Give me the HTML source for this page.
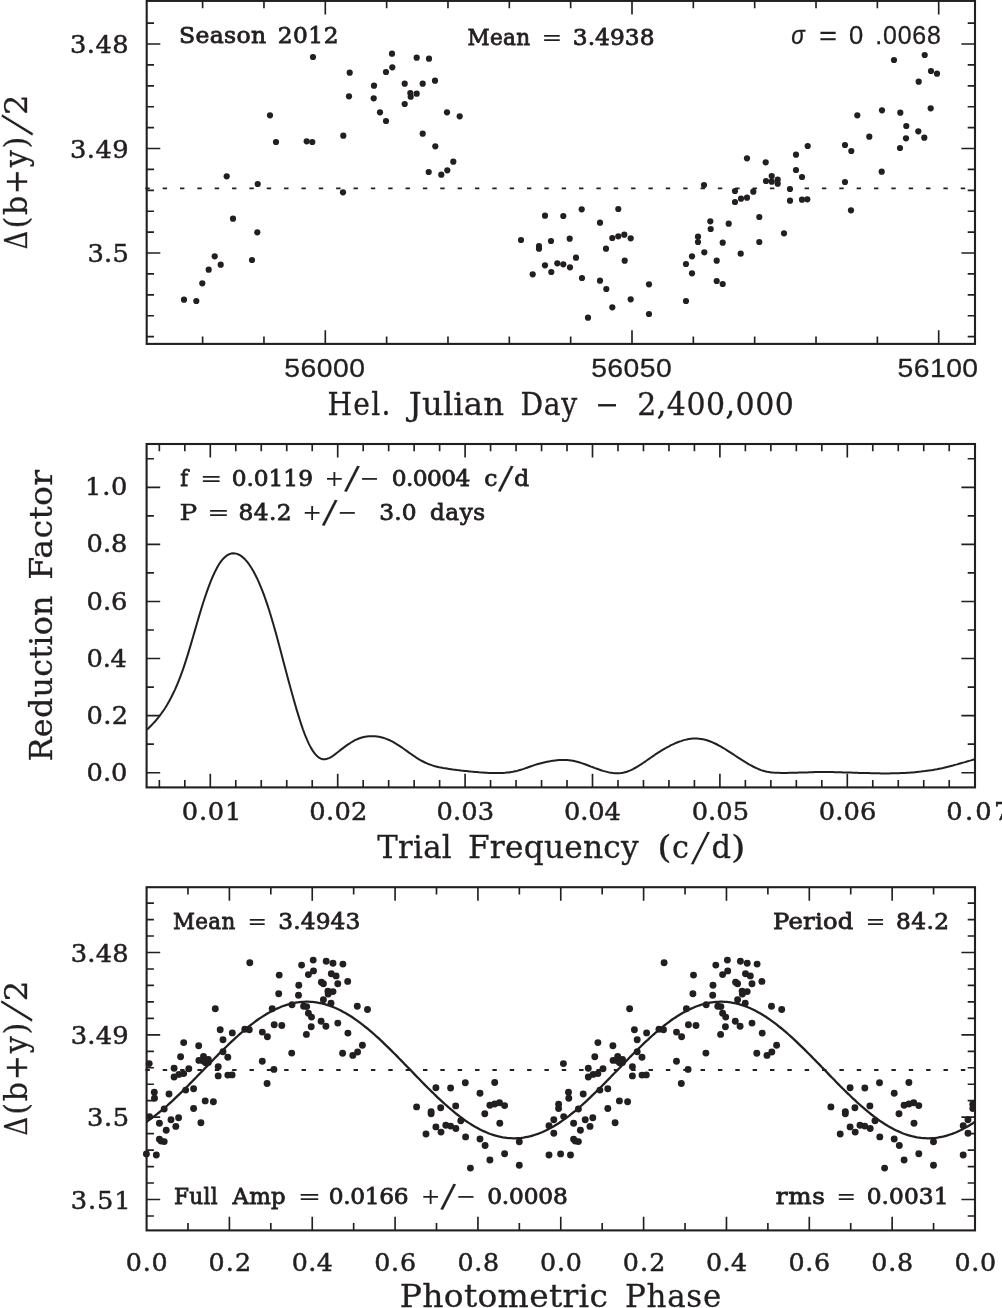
<!DOCTYPE html>
<html><head><meta charset="utf-8"><title>Photometric period analysis</title>
<style>html,body{margin:0;padding:0;background:#fff}svg{display:block}</style></head>
<body>
<svg width="1002" height="1308" viewBox="0 0 1002 1308" fill="#231f20">
<rect width="1002" height="1308" fill="#fff"/>
<rect x="146.70" y="0.90" width="828.30" height="343.00" fill="none" stroke="#231f20" stroke-width="2.1"/>
<path d="M202.62 0.90v7.3M202.62 343.90v-7.3M263.96 0.90v7.3M263.96 343.90v-7.3M386.64 0.90v7.3M386.64 343.90v-7.3M447.98 0.90v7.3M447.98 343.90v-7.3M509.32 0.90v7.3M509.32 343.90v-7.3M570.66 0.90v7.3M570.66 343.90v-7.3M693.34 0.90v7.3M693.34 343.90v-7.3M754.68 0.90v7.3M754.68 343.90v-7.3M816.02 0.90v7.3M816.02 343.90v-7.3M877.36 0.90v7.3M877.36 343.90v-7.3" stroke="#231f20" stroke-width="1.65" fill="none"/>
<path d="M325.30 0.90v13.6M325.30 343.90v-13.6M632.00 0.90v13.6M632.00 343.90v-13.6M938.70 0.90v13.6M938.70 343.90v-13.6" stroke="#231f20" stroke-width="1.65" fill="none"/>
<path d="M146.70 23.10h7.3M975.00 23.10h-7.3M146.70 64.90h7.3M975.00 64.90h-7.3M146.70 85.80h7.3M975.00 85.80h-7.3M146.70 106.70h7.3M975.00 106.70h-7.3M146.70 127.60h7.3M975.00 127.60h-7.3M146.70 169.40h7.3M975.00 169.40h-7.3M146.70 190.30h7.3M975.00 190.30h-7.3M146.70 211.20h7.3M975.00 211.20h-7.3M146.70 232.10h7.3M975.00 232.10h-7.3M146.70 273.90h7.3M975.00 273.90h-7.3M146.70 294.80h7.3M975.00 294.80h-7.3M146.70 315.70h7.3M975.00 315.70h-7.3M146.70 336.60h7.3M975.00 336.60h-7.3" stroke="#231f20" stroke-width="1.65" fill="none"/>
<path d="M146.70 44.00h13.6M975.00 44.00h-13.6M146.70 148.50h13.6M975.00 148.50h-13.6M146.70 253.00h13.6M975.00 253.00h-13.6" stroke="#231f20" stroke-width="1.65" fill="none"/>
<line x1="145.30" y1="188.30" x2="970.00" y2="188.30" stroke="#231f20" stroke-width="1.7" stroke-dasharray="4.4 12.95"/>
<g fill="#231f20">
<circle cx="184.0" cy="299.7" r="3.1"/>
<circle cx="196.3" cy="301.0" r="3.1"/>
<circle cx="202.3" cy="283.3" r="3.1"/>
<circle cx="208.7" cy="269.7" r="3.1"/>
<circle cx="214.7" cy="256.3" r="3.1"/>
<circle cx="220.7" cy="264.7" r="3.1"/>
<circle cx="226.7" cy="176.3" r="3.1"/>
<circle cx="233.0" cy="218.7" r="3.1"/>
<circle cx="252.0" cy="260.0" r="3.1"/>
<circle cx="257.3" cy="232.3" r="3.1"/>
<circle cx="257.7" cy="184.0" r="3.1"/>
<circle cx="270.0" cy="115.3" r="3.1"/>
<circle cx="276.0" cy="142.0" r="3.1"/>
<circle cx="306.7" cy="141.3" r="3.1"/>
<circle cx="312.3" cy="142.0" r="3.1"/>
<circle cx="313.0" cy="57.0" r="3.1"/>
<circle cx="343.0" cy="192.3" r="3.1"/>
<circle cx="343.3" cy="135.7" r="3.1"/>
<circle cx="349.0" cy="96.3" r="3.1"/>
<circle cx="349.7" cy="72.7" r="3.1"/>
<circle cx="373.7" cy="98.3" r="3.1"/>
<circle cx="374.0" cy="85.7" r="3.1"/>
<circle cx="380.0" cy="112.3" r="3.1"/>
<circle cx="386.0" cy="121.0" r="3.1"/>
<circle cx="386.0" cy="72.0" r="3.1"/>
<circle cx="392.0" cy="53.7" r="3.1"/>
<circle cx="392.3" cy="67.3" r="3.1"/>
<circle cx="404.7" cy="83.7" r="3.1"/>
<circle cx="404.7" cy="104.0" r="3.1"/>
<circle cx="410.3" cy="93.0" r="3.1"/>
<circle cx="410.7" cy="96.7" r="3.1"/>
<circle cx="416.7" cy="93.7" r="3.1"/>
<circle cx="416.7" cy="57.7" r="3.1"/>
<circle cx="422.7" cy="83.7" r="3.1"/>
<circle cx="422.7" cy="133.7" r="3.1"/>
<circle cx="429.0" cy="58.7" r="3.1"/>
<circle cx="428.7" cy="172.0" r="3.1"/>
<circle cx="435.0" cy="80.7" r="3.1"/>
<circle cx="435.3" cy="146.3" r="3.1"/>
<circle cx="441.3" cy="174.7" r="3.1"/>
<circle cx="447.3" cy="170.3" r="3.1"/>
<circle cx="447.0" cy="112.3" r="3.1"/>
<circle cx="453.3" cy="161.7" r="3.1"/>
<circle cx="459.7" cy="116.3" r="3.1"/>
<circle cx="521.0" cy="240.0" r="3.1"/>
<circle cx="532.7" cy="274.3" r="3.1"/>
<circle cx="539.0" cy="246.0" r="3.1"/>
<circle cx="539.0" cy="248.7" r="3.1"/>
<circle cx="545.0" cy="215.7" r="3.1"/>
<circle cx="545.0" cy="265.3" r="3.1"/>
<circle cx="551.0" cy="241.0" r="3.1"/>
<circle cx="551.3" cy="272.0" r="3.1"/>
<circle cx="557.3" cy="263.3" r="3.1"/>
<circle cx="563.3" cy="216.0" r="3.1"/>
<circle cx="563.3" cy="264.3" r="3.1"/>
<circle cx="569.7" cy="238.7" r="3.1"/>
<circle cx="570.0" cy="267.3" r="3.1"/>
<circle cx="576.0" cy="257.7" r="3.1"/>
<circle cx="581.7" cy="209.3" r="3.1"/>
<circle cx="582.0" cy="278.0" r="3.1"/>
<circle cx="588.0" cy="317.7" r="3.1"/>
<circle cx="600.0" cy="222.7" r="3.1"/>
<circle cx="600.0" cy="280.7" r="3.1"/>
<circle cx="606.0" cy="248.7" r="3.1"/>
<circle cx="606.3" cy="289.0" r="3.1"/>
<circle cx="612.3" cy="238.0" r="3.1"/>
<circle cx="612.3" cy="307.3" r="3.1"/>
<circle cx="618.3" cy="209.0" r="3.1"/>
<circle cx="618.3" cy="236.3" r="3.1"/>
<circle cx="624.3" cy="234.7" r="3.1"/>
<circle cx="624.7" cy="260.7" r="3.1"/>
<circle cx="630.7" cy="238.3" r="3.1"/>
<circle cx="630.7" cy="299.3" r="3.1"/>
<circle cx="649.0" cy="284.3" r="3.1"/>
<circle cx="649.0" cy="314.0" r="3.1"/>
<circle cx="686.0" cy="264.0" r="3.1"/>
<circle cx="686.0" cy="301.0" r="3.1"/>
<circle cx="692.0" cy="256.3" r="3.1"/>
<circle cx="692.0" cy="273.3" r="3.1"/>
<circle cx="698.0" cy="236.7" r="3.1"/>
<circle cx="698.0" cy="242.0" r="3.1"/>
<circle cx="704.0" cy="185.0" r="3.1"/>
<circle cx="704.3" cy="252.3" r="3.1"/>
<circle cx="710.3" cy="221.3" r="3.1"/>
<circle cx="710.7" cy="229.0" r="3.1"/>
<circle cx="716.7" cy="260.7" r="3.1"/>
<circle cx="716.7" cy="281.0" r="3.1"/>
<circle cx="722.7" cy="242.7" r="3.1"/>
<circle cx="722.7" cy="284.0" r="3.1"/>
<circle cx="728.7" cy="223.7" r="3.1"/>
<circle cx="735.0" cy="191.0" r="3.1"/>
<circle cx="735.0" cy="202.0" r="3.1"/>
<circle cx="740.7" cy="253.7" r="3.1"/>
<circle cx="741.0" cy="198.7" r="3.1"/>
<circle cx="747.0" cy="158.3" r="3.1"/>
<circle cx="747.0" cy="197.7" r="3.1"/>
<circle cx="753.3" cy="191.7" r="3.1"/>
<circle cx="759.3" cy="217.0" r="3.1"/>
<circle cx="759.3" cy="242.0" r="3.1"/>
<circle cx="765.7" cy="162.3" r="3.1"/>
<circle cx="766.0" cy="181.0" r="3.1"/>
<circle cx="771.7" cy="176.0" r="3.1"/>
<circle cx="771.7" cy="181.7" r="3.1"/>
<circle cx="777.7" cy="179.7" r="3.1"/>
<circle cx="777.7" cy="183.7" r="3.1"/>
<circle cx="784.0" cy="233.3" r="3.1"/>
<circle cx="790.0" cy="189.0" r="3.1"/>
<circle cx="790.0" cy="200.7" r="3.1"/>
<circle cx="796.0" cy="154.7" r="3.1"/>
<circle cx="796.0" cy="170.0" r="3.1"/>
<circle cx="802.0" cy="177.0" r="3.1"/>
<circle cx="802.0" cy="199.7" r="3.1"/>
<circle cx="807.7" cy="146.0" r="3.1"/>
<circle cx="807.3" cy="199.3" r="3.1"/>
<circle cx="845.0" cy="145.0" r="3.1"/>
<circle cx="845.0" cy="182.0" r="3.1"/>
<circle cx="851.3" cy="151.0" r="3.1"/>
<circle cx="851.0" cy="210.3" r="3.1"/>
<circle cx="857.3" cy="115.3" r="3.1"/>
<circle cx="869.3" cy="136.7" r="3.1"/>
<circle cx="882.0" cy="110.3" r="3.1"/>
<circle cx="881.7" cy="171.7" r="3.1"/>
<circle cx="894.0" cy="60.0" r="3.1"/>
<circle cx="900.3" cy="112.7" r="3.1"/>
<circle cx="900.0" cy="148.0" r="3.1"/>
<circle cx="906.3" cy="126.0" r="3.1"/>
<circle cx="906.0" cy="138.3" r="3.1"/>
<circle cx="918.7" cy="81.7" r="3.1"/>
<circle cx="918.3" cy="131.3" r="3.1"/>
<circle cx="924.7" cy="55.0" r="3.1"/>
<circle cx="924.3" cy="137.7" r="3.1"/>
<circle cx="931.0" cy="71.0" r="3.1"/>
<circle cx="930.7" cy="108.3" r="3.1"/>
<circle cx="937.0" cy="73.7" r="3.1"/>
</g>
<text id="t1" transform="translate(70.05 53.10) scale(1.03 1)" font-size="25.0" font-family='"DejaVu Serif", "Liberation Serif", serif' textLength="56.80" lengthAdjust="spacing" stroke="#231f20" stroke-width="0.5">3.48</text>
<text id="t2" transform="translate(70.05 157.60) scale(1.03 1)" font-size="25.0" font-family='"DejaVu Serif", "Liberation Serif", serif' textLength="56.80" lengthAdjust="spacing" stroke="#231f20" stroke-width="0.5">3.49</text>
<text id="t3" transform="translate(87.45 262.10) scale(1.03 1)" font-size="25.0" font-family='"DejaVu Serif", "Liberation Serif", serif' textLength="40.29" lengthAdjust="spacing" stroke="#231f20" stroke-width="0.5">3.5</text>
<text id="t4" transform="translate(284.20 376.60) scale(1.1145414377159697 1)" font-size="25.4" font-family='"Liberation Sans", "DejaVu Sans", sans-serif' textLength="72.45" lengthAdjust="spacing" stroke="#231f20" stroke-width="0.3">56000</text>
<text id="t5" transform="translate(591.15 376.60) scale(1.1145414377159697 1)" font-size="25.4" font-family='"Liberation Sans", "DejaVu Sans", sans-serif' textLength="72.23" lengthAdjust="spacing" stroke="#231f20" stroke-width="0.3">56050</text>
<text id="t6" transform="translate(897.60 376.60) scale(1.1145414377159697 1)" font-size="25.4" font-family='"Liberation Sans", "DejaVu Sans", sans-serif' textLength="72.23" lengthAdjust="spacing" stroke="#231f20" stroke-width="0.3">56100</text>
<text id="t7" transform="translate(327.45 415.30) scale(0.9123131453228539 1)" font-size="30.9" font-family='"DejaVu Serif", "Liberation Serif", serif' textLength="69.06" lengthAdjust="spacing" stroke="#231f20" stroke-width="0.3">Hel.</text>
<text id="t8" transform="translate(408.85 415.30) scale(1.0461353202378258 1)" font-size="30.9" font-family='"DejaVu Serif", "Liberation Serif", serif' textLength="91.05" lengthAdjust="spacing" stroke="#231f20" stroke-width="0.3">Julian</text>
<text id="t9" transform="translate(520.50 415.30) scale(0.9124072564374941 1)" font-size="30.9" font-family='"DejaVu Serif", "Liberation Serif", serif' textLength="62.20" lengthAdjust="spacing" stroke="#231f20" stroke-width="0.3">Day</text>
<text id="t10" transform="translate(595.30 415.30)" font-size="30.9" font-family='"DejaVu Serif", "Liberation Serif", serif' textLength="24.00" lengthAdjust="spacingAndGlyphs">−</text>
<text id="t11" transform="translate(637.30 415.30) scale(0.9708737864077674 1)" font-size="30.9" font-family='"DejaVu Serif", "Liberation Serif", serif' textLength="161.20" lengthAdjust="spacing" stroke="#231f20" stroke-width="0.3">2,400,000</text>
<text id="t12" transform="translate(26.80 249.15) rotate(-90)" font-size="32.5" font-family='"DejaVu Serif", "Liberation Serif", serif' textLength="18.25" lengthAdjust="spacingAndGlyphs" stroke="#231f20" stroke-width="0.3">Δ</text>
<text id="t13" transform="translate(26.80 228.50) rotate(-90) scale(0.93 1)" font-size="32.5" font-family='"DejaVu Serif", "Liberation Serif", serif' textLength="98.66" lengthAdjust="spacing" stroke="#231f20" stroke-width="0.3">(b+y)</text>
<text id="t14" transform="translate(26.80 115.05) rotate(-90)" font-size="32.5" font-family='"DejaVu Serif", "Liberation Serif", serif' textLength="20.47" lengthAdjust="spacingAndGlyphs" stroke="#231f20" stroke-width="0.3">2</text>
<text transform="translate(17.20 124.90) rotate(-90) rotate(14) translate(-7.25 13.63)" font-size="43" font-family='"DejaVu Serif", "Liberation Serif", serif' stroke="#fff" stroke-width="0.7">/</text>
<text id="t15" transform="translate(179.00 43.30) scale(1.0421999561178965 1)" font-size="22.6" font-family='"DejaVu Serif", "Liberation Serif", serif' textLength="83.72" lengthAdjust="spacing" stroke="#231f20" stroke-width="0.8">Season</text>
<text id="t16" transform="translate(277.75 43.30) scale(1.03 1)" font-size="22.6" font-family='"DejaVu Serif", "Liberation Serif", serif' textLength="58.98" lengthAdjust="spacing" stroke="#231f20" stroke-width="0.8">2012</text>
<text id="t17" transform="translate(467.45 45.00) scale(0.9562481595710056 1)" font-size="22.6" font-family='"DejaVu Serif", "Liberation Serif", serif' textLength="65.62" lengthAdjust="spacing" stroke="#231f20" stroke-width="0.8">Mean</text>
<text id="t18" transform="translate(541.55 45.00)" font-size="22.6" font-family='"DejaVu Serif", "Liberation Serif", serif' textLength="20.89" lengthAdjust="spacingAndGlyphs">=</text>
<text id="t19" transform="translate(572.80 45.00) scale(1.03 1)" font-size="22.6" font-family='"DejaVu Serif", "Liberation Serif", serif' textLength="79.37" lengthAdjust="spacing" stroke="#231f20" stroke-width="0.8">3.4938</text>
<text id="t20" transform="translate(791.35 43.50)" font-size="25.2" font-family='"Liberation Sans", "DejaVu Sans", sans-serif' textLength="13.51" lengthAdjust="spacingAndGlyphs" stroke="#231f20" stroke-width="0.3" font-style="italic">σ</text>
<text id="t21" transform="translate(819.15 43.50)" font-size="25.2" font-family='"Liberation Sans", "DejaVu Sans", sans-serif' textLength="17.65" lengthAdjust="spacingAndGlyphs" stroke="#231f20" stroke-width="0.3">=</text>
<text id="t22" transform="translate(849.10 43.50)" font-size="25.2" font-family='"Liberation Sans", "DejaVu Sans", sans-serif' textLength="14.22" lengthAdjust="spacingAndGlyphs" stroke="#231f20" stroke-width="0.3">0</text>
<text id="t23" transform="translate(875.35 43.50) scale(0.9884991920920061 1)" font-size="25.2" font-family='"Liberation Sans", "DejaVu Sans", sans-serif' textLength="66.26" lengthAdjust="spacing" stroke="#231f20" stroke-width="0.3">.0068</text>
<rect x="146.60" y="444.00" width="828.40" height="343.40" fill="none" stroke="#231f20" stroke-width="2.1"/>
<path d="M159.34 444.00v7.3M159.34 787.40v-7.3M184.82 444.00v7.3M184.82 787.40v-7.3M235.78 444.00v7.3M235.78 787.40v-7.3M261.26 444.00v7.3M261.26 787.40v-7.3M286.74 444.00v7.3M286.74 787.40v-7.3M312.22 444.00v7.3M312.22 787.40v-7.3M363.18 444.00v7.3M363.18 787.40v-7.3M388.66 444.00v7.3M388.66 787.40v-7.3M414.14 444.00v7.3M414.14 787.40v-7.3M439.62 444.00v7.3M439.62 787.40v-7.3M490.58 444.00v7.3M490.58 787.40v-7.3M516.06 444.00v7.3M516.06 787.40v-7.3M541.54 444.00v7.3M541.54 787.40v-7.3M567.02 444.00v7.3M567.02 787.40v-7.3M617.98 444.00v7.3M617.98 787.40v-7.3M643.46 444.00v7.3M643.46 787.40v-7.3M668.94 444.00v7.3M668.94 787.40v-7.3M694.42 444.00v7.3M694.42 787.40v-7.3M745.38 444.00v7.3M745.38 787.40v-7.3M770.86 444.00v7.3M770.86 787.40v-7.3M796.34 444.00v7.3M796.34 787.40v-7.3M821.82 444.00v7.3M821.82 787.40v-7.3M872.78 444.00v7.3M872.78 787.40v-7.3M898.26 444.00v7.3M898.26 787.40v-7.3M923.74 444.00v7.3M923.74 787.40v-7.3M949.22 444.00v7.3M949.22 787.40v-7.3" stroke="#231f20" stroke-width="1.65" fill="none"/>
<path d="M210.30 444.00v13.6M210.30 787.40v-13.6M337.70 444.00v13.6M337.70 787.40v-13.6M465.10 444.00v13.6M465.10 787.40v-13.6M592.50 444.00v13.6M592.50 787.40v-13.6M719.90 444.00v13.6M719.90 787.40v-13.6M847.30 444.00v13.6M847.30 787.40v-13.6" stroke="#231f20" stroke-width="1.65" fill="none"/>
<path d="M146.60 744.16h7.3M975.00 744.16h-7.3M146.60 687.08h7.3M975.00 687.08h-7.3M146.60 630.00h7.3M975.00 630.00h-7.3M146.60 572.92h7.3M975.00 572.92h-7.3M146.60 515.84h7.3M975.00 515.84h-7.3M146.60 458.76h7.3M975.00 458.76h-7.3" stroke="#231f20" stroke-width="1.65" fill="none"/>
<path d="M146.60 772.70h13.6M975.00 772.70h-13.6M146.60 715.62h13.6M975.00 715.62h-13.6M146.60 658.54h13.6M975.00 658.54h-13.6M146.60 601.46h13.6M975.00 601.46h-13.6M146.60 544.38h13.6M975.00 544.38h-13.6M146.60 487.30h13.6M975.00 487.30h-13.6" stroke="#231f20" stroke-width="1.65" fill="none"/>
<path d="M147.0 729.6L149.0 727.7L151.0 725.7L153.0 723.6L155.0 721.5L157.0 719.1L159.0 716.7L161.0 714.0L163.0 711.2L165.0 708.2L167.0 705.0L169.0 701.5L171.0 697.8L173.0 693.8L175.0 689.6L177.0 685.0L179.0 680.1L181.0 674.9L183.0 669.4L185.0 663.4L187.0 657.1L189.0 650.6L191.0 643.9L193.0 637.0L195.0 630.1L197.0 623.2L199.0 616.4L201.0 609.7L203.0 603.3L205.0 597.2L207.0 591.4L209.0 585.9L211.0 580.7L213.0 576.0L215.0 571.7L217.0 567.8L219.0 564.3L221.0 561.4L223.0 558.9L225.0 557.0L227.0 555.4L229.0 554.3L231.0 553.6L233.0 553.3L235.0 553.4L237.0 553.9L239.0 554.7L241.0 555.9L243.0 557.4L245.0 559.3L247.0 561.6L249.0 564.2L251.0 567.2L253.0 570.5L255.0 574.2L257.0 578.2L259.0 582.6L261.0 587.3L263.0 592.4L265.0 597.9L267.0 603.7L269.0 609.8L271.0 616.3L273.0 623.0L275.0 630.0L277.0 637.3L279.0 644.7L281.0 652.2L283.0 659.9L285.0 667.5L287.0 675.1L289.0 682.5L291.0 689.8L293.0 697.0L295.0 704.0L297.0 710.9L299.0 717.4L301.0 723.7L303.0 729.5L305.0 734.9L307.0 739.7L309.0 744.1L311.0 747.9L313.0 751.1L315.0 753.9L317.0 756.0L319.0 757.7L321.0 758.7L323.0 759.2L325.0 759.2L327.0 758.8L329.0 758.1L331.0 757.1L333.0 755.8L335.0 754.4L337.0 752.8L339.0 751.2L341.0 749.6L343.0 748.1L345.0 746.6L347.0 745.1L349.0 743.8L351.0 742.5L353.0 741.3L355.0 740.2L357.0 739.3L359.0 738.5L361.0 737.8L363.0 737.2L365.0 736.8L367.0 736.5L369.0 736.3L371.0 736.2L373.0 736.2L375.0 736.3L377.0 736.5L379.0 736.8L381.0 737.3L383.0 737.8L385.0 738.4L387.0 739.1L389.0 740.0L391.0 740.9L393.0 741.9L395.0 743.1L397.0 744.3L399.0 745.6L401.0 746.9L403.0 748.3L405.0 749.7L407.0 751.1L409.0 752.6L411.0 754.0L413.0 755.4L415.0 756.7L417.0 758.1L419.0 759.3L421.0 760.5L423.0 761.5L425.0 762.5L427.0 763.4L429.0 764.2L431.0 764.9L433.0 765.6L435.0 766.2L437.0 766.7L439.0 767.2L441.0 767.6L443.0 768.0L445.0 768.3L447.0 768.6L449.0 768.9L451.0 769.2L453.0 769.5L455.0 769.7L457.0 770.0L459.0 770.2L461.0 770.5L463.0 770.7L465.0 770.9L467.0 771.1L469.0 771.4L471.0 771.6L473.0 771.7L475.0 771.9L477.0 772.1L479.0 772.3L481.0 772.4L483.0 772.5L485.0 772.7L487.0 772.8L489.0 772.9L491.0 772.9L493.0 773.0L495.0 773.0L497.0 773.1L499.0 773.0L501.0 773.0L503.0 772.9L505.0 772.8L507.0 772.6L509.0 772.4L511.0 772.1L513.0 771.8L515.0 771.3L517.0 770.9L519.0 770.3L521.0 769.7L523.0 769.1L525.0 768.4L527.0 767.7L529.0 767.0L531.0 766.3L533.0 765.6L535.0 764.9L537.0 764.3L539.0 763.7L541.0 763.2L543.0 762.7L545.0 762.2L547.0 761.8L549.0 761.4L551.0 761.1L553.0 760.7L555.0 760.5L557.0 760.3L559.0 760.1L561.0 760.0L563.0 760.0L565.0 760.0L567.0 760.1L569.0 760.2L571.0 760.5L573.0 760.8L575.0 761.2L577.0 761.7L579.0 762.3L581.0 762.9L583.0 763.6L585.0 764.3L587.0 765.0L589.0 765.8L591.0 766.6L593.0 767.3L595.0 768.1L597.0 768.8L599.0 769.5L601.0 770.2L603.0 770.9L605.0 771.4L607.0 771.9L609.0 772.4L611.0 772.7L613.0 773.0L615.0 773.2L617.0 773.2L619.0 773.2L621.0 773.0L623.0 772.7L625.0 772.2L627.0 771.7L629.0 770.9L631.0 770.1L633.0 769.1L635.0 768.0L637.0 766.9L639.0 765.6L641.0 764.4L643.0 763.0L645.0 761.7L647.0 760.3L649.0 758.9L651.0 757.5L653.0 756.1L655.0 754.7L657.0 753.4L659.0 752.1L661.0 750.9L663.0 749.6L665.0 748.5L667.0 747.3L669.0 746.3L671.0 745.2L673.0 744.3L675.0 743.4L677.0 742.5L679.0 741.7L681.0 741.1L683.0 740.4L685.0 739.9L687.0 739.4L689.0 739.1L691.0 738.8L693.0 738.6L695.0 738.5L697.0 738.6L699.0 738.7L701.0 738.9L703.0 739.3L705.0 739.7L707.0 740.3L709.0 741.0L711.0 741.7L713.0 742.6L715.0 743.5L717.0 744.5L719.0 745.6L721.0 746.7L723.0 747.8L725.0 749.0L727.0 750.3L729.0 751.6L731.0 752.9L733.0 754.2L735.0 755.5L737.0 756.8L739.0 758.1L741.0 759.4L743.0 760.7L745.0 761.9L747.0 763.1L749.0 764.3L751.0 765.4L753.0 766.5L755.0 767.5L757.0 768.4L759.0 769.3L761.0 770.1L763.0 770.7L765.0 771.3L767.0 771.8L769.0 772.1L771.0 772.4L773.0 772.6L775.0 772.7L777.0 772.8L779.0 772.8L781.0 772.9L783.0 772.9L785.0 772.9L787.0 772.9L789.0 772.8L791.0 772.8L793.0 772.8L795.0 772.7L797.0 772.7L799.0 772.6L801.0 772.5L803.0 772.5L805.0 772.4L807.0 772.4L809.0 772.3L811.0 772.2L813.0 772.2L815.0 772.1L817.0 772.1L819.0 772.1L821.0 772.1L823.0 772.1L825.0 772.1L827.0 772.1L829.0 772.1L831.0 772.1L833.0 772.1L835.0 772.2L837.0 772.2L839.0 772.3L841.0 772.3L843.0 772.4L845.0 772.4L847.0 772.5L849.0 772.5L851.0 772.6L853.0 772.7L855.0 772.7L857.0 772.8L859.0 772.9L861.0 772.9L863.0 773.0L865.0 773.0L867.0 773.1L869.0 773.1L871.0 773.2L873.0 773.2L875.0 773.3L877.0 773.3L879.0 773.3L881.0 773.4L883.0 773.4L885.0 773.4L887.0 773.4L889.0 773.4L891.0 773.3L893.0 773.3L895.0 773.3L897.0 773.2L899.0 773.2L901.0 773.1L903.0 773.0L905.0 772.9L907.0 772.8L909.0 772.7L911.0 772.5L913.0 772.4L915.0 772.2L917.0 772.0L919.0 771.8L921.0 771.6L923.0 771.3L925.0 771.1L927.0 770.8L929.0 770.5L931.0 770.2L933.0 769.9L935.0 769.5L937.0 769.2L939.0 768.8L941.0 768.4L943.0 768.0L945.0 767.5L947.0 767.0L949.0 766.5L951.0 766.0L953.0 765.5L955.0 764.9L957.0 764.4L959.0 763.8L961.0 763.2L963.0 762.6L965.0 762.1L967.0 761.5L969.0 760.9L971.0 760.4L973.0 759.8L974.9 759.3" fill="none" stroke="#231f20" stroke-width="2" stroke-linejoin="round"/>
<text id="t24" transform="translate(86.50 780.80) scale(1.03 1)" font-size="25.0" font-family='"DejaVu Serif", "Liberation Serif", serif' textLength="39.81" lengthAdjust="spacing" stroke="#231f20" stroke-width="0.5">0.0</text>
<text id="t25" transform="translate(86.50 723.72) scale(1.03 1)" font-size="25.0" font-family='"DejaVu Serif", "Liberation Serif", serif' textLength="40.53" lengthAdjust="spacing" stroke="#231f20" stroke-width="0.5">0.2</text>
<text id="t26" transform="translate(86.50 666.64) scale(1.03 1)" font-size="25.0" font-family='"DejaVu Serif", "Liberation Serif", serif' textLength="39.32" lengthAdjust="spacing" stroke="#231f20" stroke-width="0.5">0.4</text>
<text id="t27" transform="translate(86.50 609.56) scale(1.03 1)" font-size="25.0" font-family='"DejaVu Serif", "Liberation Serif", serif' textLength="39.81" lengthAdjust="spacing" stroke="#231f20" stroke-width="0.5">0.6</text>
<text id="t28" transform="translate(86.50 552.48) scale(1.03 1)" font-size="25.0" font-family='"DejaVu Serif", "Liberation Serif", serif' textLength="39.81" lengthAdjust="spacing" stroke="#231f20" stroke-width="0.5">0.8</text>
<text id="t29" transform="translate(85.00 495.40) scale(1.03 1)" font-size="25.0" font-family='"DejaVu Serif", "Liberation Serif", serif' textLength="41.26" lengthAdjust="spacing" stroke="#231f20" stroke-width="0.5">1.0</text>
<text id="t30" transform="translate(181.80 820.00) scale(1.03 1)" font-size="25.0" font-family='"DejaVu Serif", "Liberation Serif", serif' textLength="57.77" lengthAdjust="spacing" stroke="#231f20" stroke-width="0.5">0.01</text>
<text id="t31" transform="translate(309.20 820.00) scale(1.03 1)" font-size="25.0" font-family='"DejaVu Serif", "Liberation Serif", serif' textLength="56.55" lengthAdjust="spacing" stroke="#231f20" stroke-width="0.5">0.02</text>
<text id="t32" transform="translate(436.60 820.00) scale(1.03 1)" font-size="25.0" font-family='"DejaVu Serif", "Liberation Serif", serif' textLength="55.83" lengthAdjust="spacing" stroke="#231f20" stroke-width="0.5">0.03</text>
<text id="t33" transform="translate(564.00 820.00) scale(1.03 1)" font-size="25.0" font-family='"DejaVu Serif", "Liberation Serif", serif' textLength="55.34" lengthAdjust="spacing" stroke="#231f20" stroke-width="0.5">0.04</text>
<text id="t34" transform="translate(691.65 820.00) scale(1.03 1)" font-size="25.0" font-family='"DejaVu Serif", "Liberation Serif", serif' textLength="55.83" lengthAdjust="spacing" stroke="#231f20" stroke-width="0.5">0.05</text>
<text id="t35" transform="translate(818.80 820.00) scale(1.03 1)" font-size="25.0" font-family='"DejaVu Serif", "Liberation Serif", serif' textLength="55.83" lengthAdjust="spacing" stroke="#231f20" stroke-width="0.5">0.06</text>
<text id="t36" transform="translate(946.20 820.00) scale(1.03 1)" font-size="25.0" font-family='"DejaVu Serif", "Liberation Serif", serif' textLength="62.38" lengthAdjust="spacing" stroke="#231f20" stroke-width="0.5">0.07</text>
<text id="t37" transform="translate(377.35 858.20) scale(0.9826294735146454 1)" font-size="31.3" font-family='"DejaVu Serif", "Liberation Serif", serif' textLength="75.56" lengthAdjust="spacing" stroke="#231f20" stroke-width="0.3">Trial</text>
<text id="t38" transform="translate(467.90 858.20) scale(0.9986240130393959 1)" font-size="31.3" font-family='"DejaVu Serif", "Liberation Serif", serif' textLength="170.99" lengthAdjust="spacing" stroke="#231f20" stroke-width="0.3">Frequency</text>
<text id="t39" transform="translate(657.25 858.20)" font-size="31.3" font-family='"DejaVu Serif", "Liberation Serif", serif' textLength="14.38" lengthAdjust="spacingAndGlyphs" stroke="#231f20" stroke-width="0.3">(</text>
<text id="t40" transform="translate(671.95 858.20)" font-size="31.3" font-family='"DejaVu Serif", "Liberation Serif", serif' textLength="16.94" lengthAdjust="spacingAndGlyphs" stroke="#231f20" stroke-width="0.3">c</text>
<text id="t41" transform="translate(711.60 858.20)" font-size="31.3" font-family='"DejaVu Serif", "Liberation Serif", serif' textLength="19.52" lengthAdjust="spacingAndGlyphs" stroke="#231f20" stroke-width="0.3">d</text>
<text id="t42" transform="translate(731.10 858.20)" font-size="31.3" font-family='"DejaVu Serif", "Liberation Serif", serif' textLength="14.51" lengthAdjust="spacingAndGlyphs" stroke="#231f20" stroke-width="0.3">)</text>
<text transform="translate(700.30 848.30) rotate(9.5) translate(-7.25 13.63)" font-size="43" font-family='"DejaVu Serif", "Liberation Serif", serif' stroke="#fff" stroke-width="0.7">/</text>
<text id="t43" transform="translate(52.20 761.30) rotate(-90) scale(0.9759009177049914 1)" font-size="32.5" font-family='"DejaVu Serif", "Liberation Serif", serif' textLength="169.84" lengthAdjust="spacing" stroke="#231f20" stroke-width="0.3">Reduction</text>
<text id="t44" transform="translate(52.20 579.75) rotate(-90) scale(1.022499705501237 1)" font-size="32.5" font-family='"DejaVu Serif", "Liberation Serif", serif' textLength="107.58" lengthAdjust="spacing" stroke="#231f20" stroke-width="0.3">Factor</text>
<text id="t45" transform="translate(180.30 485.90)" font-size="22.6" font-family='"DejaVu Serif", "Liberation Serif", serif' textLength="7.91" lengthAdjust="spacingAndGlyphs" stroke="#231f20" stroke-width="0.8">f</text>
<text id="t46" transform="translate(200.10 485.90)" font-size="22.6" font-family='"DejaVu Serif", "Liberation Serif", serif' textLength="22.45" lengthAdjust="spacingAndGlyphs">=</text>
<text id="t47" transform="translate(231.70 485.90) scale(1.03 1)" font-size="22.6" font-family='"DejaVu Serif", "Liberation Serif", serif' textLength="78.88" lengthAdjust="spacing" stroke="#231f20" stroke-width="0.8">0.0119</text>
<text id="t48" transform="translate(324.50 485.90)" font-size="22.6" font-family='"DejaVu Serif", "Liberation Serif", serif' textLength="19.79" lengthAdjust="spacingAndGlyphs">+</text>
<text id="t49" transform="translate(359.70 485.90)" font-size="22.6" font-family='"DejaVu Serif", "Liberation Serif", serif' textLength="20.00" lengthAdjust="spacingAndGlyphs">−</text>
<text id="t50" transform="translate(391.70 485.90) scale(1.03 1)" font-size="22.6" font-family='"DejaVu Serif", "Liberation Serif", serif' textLength="76.21" lengthAdjust="spacing" stroke="#231f20" stroke-width="0.8">0.0004</text>
<text id="t51" transform="translate(484.25 485.90)" font-size="22.6" font-family='"DejaVu Serif", "Liberation Serif", serif' textLength="13.20" lengthAdjust="spacingAndGlyphs" stroke="#231f20" stroke-width="0.8">c</text>
<text id="t52" transform="translate(514.25 485.90)" font-size="22.6" font-family='"DejaVu Serif", "Liberation Serif", serif' textLength="14.85" lengthAdjust="spacingAndGlyphs" stroke="#231f20" stroke-width="0.8">d</text>
<text transform="translate(352.00 478.90) rotate(9.5) translate(-5.56 10.46)" font-size="33" font-family='"DejaVu Serif", "Liberation Serif", serif' stroke="#231f20" stroke-width="0.2">/</text>
<text transform="translate(505.70 478.90) rotate(9.5) translate(-5.56 10.46)" font-size="33" font-family='"DejaVu Serif", "Liberation Serif", serif' stroke="#231f20" stroke-width="0.2">/</text>
<text id="t53" transform="translate(179.55 519.90)" font-size="22.6" font-family='"DejaVu Serif", "Liberation Serif", serif' textLength="17.73" lengthAdjust="spacingAndGlyphs" stroke="#231f20" stroke-width="0.4">P</text>
<text id="t54" transform="translate(207.15 519.90)" font-size="22.6" font-family='"DejaVu Serif", "Liberation Serif", serif' textLength="22.45" lengthAdjust="spacingAndGlyphs">=</text>
<text id="t55" transform="translate(238.55 519.90) scale(1.03 1)" font-size="22.6" font-family='"DejaVu Serif", "Liberation Serif", serif' textLength="51.46" lengthAdjust="spacing" stroke="#231f20" stroke-width="0.8">84.2</text>
<text id="t56" transform="translate(302.30 519.90)" font-size="22.6" font-family='"DejaVu Serif", "Liberation Serif", serif' textLength="19.79" lengthAdjust="spacingAndGlyphs">+</text>
<text id="t57" transform="translate(337.50 519.90)" font-size="22.6" font-family='"DejaVu Serif", "Liberation Serif", serif' textLength="20.12" lengthAdjust="spacingAndGlyphs">−</text>
<text id="t58" transform="translate(379.30 519.90) scale(1.03 1)" font-size="22.6" font-family='"DejaVu Serif", "Liberation Serif", serif' textLength="36.17" lengthAdjust="spacing" stroke="#231f20" stroke-width="0.8">3.0</text>
<text id="t59" transform="translate(429.95 519.90) scale(1.022573061411724 1)" font-size="22.6" font-family='"DejaVu Serif", "Liberation Serif", serif' textLength="54.03" lengthAdjust="spacing" stroke="#231f20" stroke-width="0.8">days</text>
<text transform="translate(329.80 512.90) rotate(9.5) translate(-5.56 10.46)" font-size="33" font-family='"DejaVu Serif", "Liberation Serif", serif' stroke="#231f20" stroke-width="0.2">/</text>
<rect x="146.60" y="887.20" width="828.40" height="343.20" fill="none" stroke="#231f20" stroke-width="2.1"/>
<path d="M187.97 887.20v7.3M187.97 1230.40v-7.3M270.82 887.20v7.3M270.82 1230.40v-7.3M353.66 887.20v7.3M353.66 1230.40v-7.3M436.50 887.20v7.3M436.50 1230.40v-7.3M519.35 887.20v7.3M519.35 1230.40v-7.3M602.19 887.20v7.3M602.19 1230.40v-7.3M685.04 887.20v7.3M685.04 1230.40v-7.3M767.88 887.20v7.3M767.88 1230.40v-7.3M850.72 887.20v7.3M850.72 1230.40v-7.3M933.57 887.20v7.3M933.57 1230.40v-7.3" stroke="#231f20" stroke-width="1.65" fill="none"/>
<path d="M229.39 887.20v13.6M229.39 1230.40v-13.6M312.24 887.20v13.6M312.24 1230.40v-13.6M395.08 887.20v13.6M395.08 1230.40v-13.6M477.93 887.20v13.6M477.93 1230.40v-13.6M560.77 887.20v13.6M560.77 1230.40v-13.6M643.61 887.20v13.6M643.61 1230.40v-13.6M726.46 887.20v13.6M726.46 1230.40v-13.6M809.30 887.20v13.6M809.30 1230.40v-13.6M892.15 887.20v13.6M892.15 1230.40v-13.6" stroke="#231f20" stroke-width="1.65" fill="none"/>
<path d="M146.60 903.10h7.3M975.00 903.10h-7.3M146.60 919.57h7.3M975.00 919.57h-7.3M146.60 936.03h7.3M975.00 936.03h-7.3M146.60 968.97h7.3M975.00 968.97h-7.3M146.60 985.43h7.3M975.00 985.43h-7.3M146.60 1001.90h7.3M975.00 1001.90h-7.3M146.60 1018.36h7.3M975.00 1018.36h-7.3M146.60 1051.30h7.3M975.00 1051.30h-7.3M146.60 1067.76h7.3M975.00 1067.76h-7.3M146.60 1084.23h7.3M975.00 1084.23h-7.3M146.60 1100.69h7.3M975.00 1100.69h-7.3M146.60 1133.63h7.3M975.00 1133.63h-7.3M146.60 1150.09h7.3M975.00 1150.09h-7.3M146.60 1166.56h7.3M975.00 1166.56h-7.3M146.60 1183.02h7.3M975.00 1183.02h-7.3M146.60 1215.96h7.3M975.00 1215.96h-7.3" stroke="#231f20" stroke-width="1.65" fill="none"/>
<path d="M146.60 952.50h13.6M975.00 952.50h-13.6M146.60 1034.83h13.6M975.00 1034.83h-13.6M146.60 1117.16h13.6M975.00 1117.16h-13.6M146.60 1199.49h13.6M975.00 1199.49h-13.6" stroke="#231f20" stroke-width="1.65" fill="none"/>
<clipPath id="cb"><rect x="141.6" y="887.2" width="834.4" height="343.20000000000005"/></clipPath>
<line x1="145.40" y1="1070.00" x2="970.00" y2="1070.00" stroke="#231f20" stroke-width="1.9" stroke-dasharray="4.4 12.95"/>
<g fill="#231f20" clip-path="url(#cb)">
<circle cx="146.4" cy="1153.9" r="3.45"/>
<circle cx="560.6" cy="1153.9" r="3.45"/>
<circle cx="156.3" cy="1155.0" r="3.45"/>
<circle cx="570.5" cy="1155.0" r="3.45"/>
<circle cx="161.1" cy="1141.1" r="3.45"/>
<circle cx="575.3" cy="1141.1" r="3.45"/>
<circle cx="166.2" cy="1130.3" r="3.45"/>
<circle cx="580.4" cy="1130.3" r="3.45"/>
<circle cx="171.0" cy="1119.8" r="3.45"/>
<circle cx="585.2" cy="1119.8" r="3.45"/>
<circle cx="175.8" cy="1126.4" r="3.45"/>
<circle cx="590.0" cy="1126.4" r="3.45"/>
<circle cx="180.6" cy="1056.8" r="3.45"/>
<circle cx="594.8" cy="1056.8" r="3.45"/>
<circle cx="185.7" cy="1090.1" r="3.45"/>
<circle cx="599.9" cy="1090.1" r="3.45"/>
<circle cx="200.9" cy="1122.7" r="3.45"/>
<circle cx="615.1" cy="1122.7" r="3.45"/>
<circle cx="205.2" cy="1100.9" r="3.45"/>
<circle cx="619.4" cy="1100.9" r="3.45"/>
<circle cx="205.5" cy="1062.8" r="3.45"/>
<circle cx="619.7" cy="1062.8" r="3.45"/>
<circle cx="215.3" cy="1008.7" r="3.45"/>
<circle cx="629.6" cy="1008.7" r="3.45"/>
<circle cx="220.2" cy="1029.7" r="3.45"/>
<circle cx="634.4" cy="1029.7" r="3.45"/>
<circle cx="244.8" cy="1029.2" r="3.45"/>
<circle cx="659.0" cy="1029.2" r="3.45"/>
<circle cx="249.3" cy="1029.7" r="3.45"/>
<circle cx="663.5" cy="1029.7" r="3.45"/>
<circle cx="249.8" cy="962.7" r="3.45"/>
<circle cx="664.1" cy="962.7" r="3.45"/>
<circle cx="273.9" cy="1069.4" r="3.45"/>
<circle cx="688.1" cy="1069.4" r="3.45"/>
<circle cx="274.2" cy="1024.7" r="3.45"/>
<circle cx="688.4" cy="1024.7" r="3.45"/>
<circle cx="278.7" cy="993.7" r="3.45"/>
<circle cx="692.9" cy="993.7" r="3.45"/>
<circle cx="279.2" cy="975.1" r="3.45"/>
<circle cx="693.5" cy="975.1" r="3.45"/>
<circle cx="298.5" cy="995.3" r="3.45"/>
<circle cx="712.7" cy="995.3" r="3.45"/>
<circle cx="298.8" cy="985.3" r="3.45"/>
<circle cx="713.0" cy="985.3" r="3.45"/>
<circle cx="303.6" cy="1006.3" r="3.45"/>
<circle cx="717.8" cy="1006.3" r="3.45"/>
<circle cx="308.4" cy="1013.2" r="3.45"/>
<circle cx="722.6" cy="1013.2" r="3.45"/>
<circle cx="308.4" cy="974.6" r="3.45"/>
<circle cx="722.6" cy="974.6" r="3.45"/>
<circle cx="313.2" cy="960.1" r="3.45"/>
<circle cx="727.4" cy="960.1" r="3.45"/>
<circle cx="313.5" cy="970.9" r="3.45"/>
<circle cx="727.7" cy="970.9" r="3.45"/>
<circle cx="323.4" cy="983.8" r="3.45"/>
<circle cx="737.6" cy="983.8" r="3.45"/>
<circle cx="323.4" cy="999.8" r="3.45"/>
<circle cx="737.6" cy="999.8" r="3.45"/>
<circle cx="327.9" cy="991.1" r="3.45"/>
<circle cx="742.1" cy="991.1" r="3.45"/>
<circle cx="328.2" cy="994.0" r="3.45"/>
<circle cx="742.4" cy="994.0" r="3.45"/>
<circle cx="333.0" cy="991.6" r="3.45"/>
<circle cx="747.2" cy="991.6" r="3.45"/>
<circle cx="333.0" cy="963.3" r="3.45"/>
<circle cx="747.2" cy="963.3" r="3.45"/>
<circle cx="337.8" cy="983.8" r="3.45"/>
<circle cx="752.0" cy="983.8" r="3.45"/>
<circle cx="337.8" cy="1023.1" r="3.45"/>
<circle cx="752.0" cy="1023.1" r="3.45"/>
<circle cx="342.9" cy="964.1" r="3.45"/>
<circle cx="757.1" cy="964.1" r="3.45"/>
<circle cx="342.6" cy="1053.3" r="3.45"/>
<circle cx="756.8" cy="1053.3" r="3.45"/>
<circle cx="347.7" cy="981.4" r="3.45"/>
<circle cx="761.9" cy="981.4" r="3.45"/>
<circle cx="347.9" cy="1033.1" r="3.45"/>
<circle cx="762.2" cy="1033.1" r="3.45"/>
<circle cx="352.8" cy="1055.4" r="3.45"/>
<circle cx="767.0" cy="1055.4" r="3.45"/>
<circle cx="357.6" cy="1052.0" r="3.45"/>
<circle cx="771.8" cy="1052.0" r="3.45"/>
<circle cx="357.3" cy="1006.3" r="3.45"/>
<circle cx="771.5" cy="1006.3" r="3.45"/>
<circle cx="362.4" cy="1045.2" r="3.45"/>
<circle cx="776.6" cy="1045.2" r="3.45"/>
<circle cx="367.5" cy="1009.5" r="3.45"/>
<circle cx="781.7" cy="1009.5" r="3.45"/>
<circle cx="416.6" cy="1106.9" r="3.45"/>
<circle cx="830.9" cy="1106.9" r="3.45"/>
<circle cx="426.0" cy="1134.0" r="3.45"/>
<circle cx="840.2" cy="1134.0" r="3.45"/>
<circle cx="431.1" cy="1111.6" r="3.45"/>
<circle cx="845.3" cy="1111.6" r="3.45"/>
<circle cx="431.1" cy="1113.7" r="3.45"/>
<circle cx="845.3" cy="1113.7" r="3.45"/>
<circle cx="435.9" cy="1087.7" r="3.45"/>
<circle cx="850.1" cy="1087.7" r="3.45"/>
<circle cx="435.9" cy="1126.9" r="3.45"/>
<circle cx="850.1" cy="1126.9" r="3.45"/>
<circle cx="440.7" cy="1107.7" r="3.45"/>
<circle cx="854.9" cy="1107.7" r="3.45"/>
<circle cx="441.0" cy="1132.1" r="3.45"/>
<circle cx="855.2" cy="1132.1" r="3.45"/>
<circle cx="445.8" cy="1125.3" r="3.45"/>
<circle cx="860.0" cy="1125.3" r="3.45"/>
<circle cx="450.6" cy="1088.0" r="3.45"/>
<circle cx="864.8" cy="1088.0" r="3.45"/>
<circle cx="450.6" cy="1126.1" r="3.45"/>
<circle cx="864.8" cy="1126.1" r="3.45"/>
<circle cx="455.7" cy="1105.9" r="3.45"/>
<circle cx="869.9" cy="1105.9" r="3.45"/>
<circle cx="455.9" cy="1128.5" r="3.45"/>
<circle cx="870.2" cy="1128.5" r="3.45"/>
<circle cx="460.8" cy="1120.8" r="3.45"/>
<circle cx="875.0" cy="1120.8" r="3.45"/>
<circle cx="465.3" cy="1082.8" r="3.45"/>
<circle cx="879.5" cy="1082.8" r="3.45"/>
<circle cx="465.6" cy="1136.9" r="3.45"/>
<circle cx="879.8" cy="1136.9" r="3.45"/>
<circle cx="470.4" cy="1168.1" r="3.45"/>
<circle cx="884.6" cy="1168.1" r="3.45"/>
<circle cx="480.0" cy="1093.3" r="3.45"/>
<circle cx="894.2" cy="1093.3" r="3.45"/>
<circle cx="480.0" cy="1139.0" r="3.45"/>
<circle cx="894.2" cy="1139.0" r="3.45"/>
<circle cx="484.8" cy="1113.7" r="3.45"/>
<circle cx="899.0" cy="1113.7" r="3.45"/>
<circle cx="485.1" cy="1145.5" r="3.45"/>
<circle cx="899.3" cy="1145.5" r="3.45"/>
<circle cx="489.9" cy="1105.3" r="3.45"/>
<circle cx="904.1" cy="1105.3" r="3.45"/>
<circle cx="489.9" cy="1160.0" r="3.45"/>
<circle cx="904.1" cy="1160.0" r="3.45"/>
<circle cx="494.7" cy="1082.5" r="3.45"/>
<circle cx="908.9" cy="1082.5" r="3.45"/>
<circle cx="494.7" cy="1104.0" r="3.45"/>
<circle cx="908.9" cy="1104.0" r="3.45"/>
<circle cx="499.5" cy="1102.7" r="3.45"/>
<circle cx="913.7" cy="1102.7" r="3.45"/>
<circle cx="499.8" cy="1123.2" r="3.45"/>
<circle cx="914.0" cy="1123.2" r="3.45"/>
<circle cx="504.6" cy="1105.6" r="3.45"/>
<circle cx="918.8" cy="1105.6" r="3.45"/>
<circle cx="504.6" cy="1153.7" r="3.45"/>
<circle cx="918.8" cy="1153.7" r="3.45"/>
<circle cx="519.3" cy="1141.8" r="3.45"/>
<circle cx="933.5" cy="1141.8" r="3.45"/>
<circle cx="519.3" cy="1165.2" r="3.45"/>
<circle cx="933.5" cy="1165.2" r="3.45"/>
<circle cx="549.0" cy="1125.8" r="3.45"/>
<circle cx="963.2" cy="1125.8" r="3.45"/>
<circle cx="549.0" cy="1155.0" r="3.45"/>
<circle cx="963.2" cy="1155.0" r="3.45"/>
<circle cx="553.8" cy="1119.8" r="3.45"/>
<circle cx="968.0" cy="1119.8" r="3.45"/>
<circle cx="553.8" cy="1133.2" r="3.45"/>
<circle cx="968.0" cy="1133.2" r="3.45"/>
<circle cx="558.6" cy="1104.3" r="3.45"/>
<circle cx="972.8" cy="1104.3" r="3.45"/>
<circle cx="558.6" cy="1108.5" r="3.45"/>
<circle cx="972.8" cy="1108.5" r="3.45"/>
<circle cx="149.2" cy="1063.6" r="3.45"/>
<circle cx="563.4" cy="1063.6" r="3.45"/>
<circle cx="149.5" cy="1116.6" r="3.45"/>
<circle cx="563.7" cy="1116.6" r="3.45"/>
<circle cx="154.3" cy="1092.2" r="3.45"/>
<circle cx="568.5" cy="1092.2" r="3.45"/>
<circle cx="154.5" cy="1098.3" r="3.45"/>
<circle cx="568.8" cy="1098.3" r="3.45"/>
<circle cx="159.4" cy="1123.2" r="3.45"/>
<circle cx="573.6" cy="1123.2" r="3.45"/>
<circle cx="159.4" cy="1139.2" r="3.45"/>
<circle cx="573.6" cy="1139.2" r="3.45"/>
<circle cx="164.2" cy="1109.0" r="3.45"/>
<circle cx="578.4" cy="1109.0" r="3.45"/>
<circle cx="164.2" cy="1141.6" r="3.45"/>
<circle cx="578.4" cy="1141.6" r="3.45"/>
<circle cx="169.0" cy="1094.0" r="3.45"/>
<circle cx="583.2" cy="1094.0" r="3.45"/>
<circle cx="174.1" cy="1068.3" r="3.45"/>
<circle cx="588.3" cy="1068.3" r="3.45"/>
<circle cx="174.1" cy="1077.0" r="3.45"/>
<circle cx="588.3" cy="1077.0" r="3.45"/>
<circle cx="178.6" cy="1117.7" r="3.45"/>
<circle cx="592.8" cy="1117.7" r="3.45"/>
<circle cx="178.9" cy="1074.4" r="3.45"/>
<circle cx="593.1" cy="1074.4" r="3.45"/>
<circle cx="183.7" cy="1042.6" r="3.45"/>
<circle cx="597.9" cy="1042.6" r="3.45"/>
<circle cx="183.7" cy="1073.6" r="3.45"/>
<circle cx="597.9" cy="1073.6" r="3.45"/>
<circle cx="188.8" cy="1068.8" r="3.45"/>
<circle cx="603.0" cy="1068.8" r="3.45"/>
<circle cx="193.6" cy="1088.8" r="3.45"/>
<circle cx="607.8" cy="1088.8" r="3.45"/>
<circle cx="193.6" cy="1108.5" r="3.45"/>
<circle cx="607.8" cy="1108.5" r="3.45"/>
<circle cx="198.7" cy="1045.7" r="3.45"/>
<circle cx="612.9" cy="1045.7" r="3.45"/>
<circle cx="198.9" cy="1060.4" r="3.45"/>
<circle cx="613.1" cy="1060.4" r="3.45"/>
<circle cx="203.5" cy="1056.5" r="3.45"/>
<circle cx="617.7" cy="1056.5" r="3.45"/>
<circle cx="203.5" cy="1061.0" r="3.45"/>
<circle cx="617.7" cy="1061.0" r="3.45"/>
<circle cx="208.3" cy="1059.4" r="3.45"/>
<circle cx="622.5" cy="1059.4" r="3.45"/>
<circle cx="208.3" cy="1062.5" r="3.45"/>
<circle cx="622.5" cy="1062.5" r="3.45"/>
<circle cx="213.4" cy="1101.7" r="3.45"/>
<circle cx="627.6" cy="1101.7" r="3.45"/>
<circle cx="218.2" cy="1066.7" r="3.45"/>
<circle cx="632.4" cy="1066.7" r="3.45"/>
<circle cx="218.2" cy="1075.9" r="3.45"/>
<circle cx="632.4" cy="1075.9" r="3.45"/>
<circle cx="223.0" cy="1039.7" r="3.45"/>
<circle cx="637.2" cy="1039.7" r="3.45"/>
<circle cx="223.0" cy="1051.8" r="3.45"/>
<circle cx="637.2" cy="1051.8" r="3.45"/>
<circle cx="227.8" cy="1057.3" r="3.45"/>
<circle cx="642.0" cy="1057.3" r="3.45"/>
<circle cx="227.8" cy="1075.1" r="3.45"/>
<circle cx="642.0" cy="1075.1" r="3.45"/>
<circle cx="232.3" cy="1032.9" r="3.45"/>
<circle cx="646.6" cy="1032.9" r="3.45"/>
<circle cx="232.1" cy="1074.9" r="3.45"/>
<circle cx="646.3" cy="1074.9" r="3.45"/>
<circle cx="262.3" cy="1032.1" r="3.45"/>
<circle cx="676.5" cy="1032.1" r="3.45"/>
<circle cx="262.3" cy="1061.2" r="3.45"/>
<circle cx="676.5" cy="1061.2" r="3.45"/>
<circle cx="267.4" cy="1036.8" r="3.45"/>
<circle cx="681.6" cy="1036.8" r="3.45"/>
<circle cx="267.1" cy="1083.5" r="3.45"/>
<circle cx="681.3" cy="1083.5" r="3.45"/>
<circle cx="272.2" cy="1008.7" r="3.45"/>
<circle cx="686.4" cy="1008.7" r="3.45"/>
<circle cx="281.8" cy="1025.5" r="3.45"/>
<circle cx="696.0" cy="1025.5" r="3.45"/>
<circle cx="292.0" cy="1004.8" r="3.45"/>
<circle cx="706.2" cy="1004.8" r="3.45"/>
<circle cx="291.7" cy="1053.1" r="3.45"/>
<circle cx="705.9" cy="1053.1" r="3.45"/>
<circle cx="301.6" cy="965.1" r="3.45"/>
<circle cx="715.8" cy="965.1" r="3.45"/>
<circle cx="306.7" cy="1006.6" r="3.45"/>
<circle cx="720.9" cy="1006.6" r="3.45"/>
<circle cx="306.4" cy="1034.4" r="3.45"/>
<circle cx="720.6" cy="1034.4" r="3.45"/>
<circle cx="311.5" cy="1017.1" r="3.45"/>
<circle cx="725.7" cy="1017.1" r="3.45"/>
<circle cx="311.2" cy="1026.8" r="3.45"/>
<circle cx="725.4" cy="1026.8" r="3.45"/>
<circle cx="321.4" cy="982.2" r="3.45"/>
<circle cx="735.6" cy="982.2" r="3.45"/>
<circle cx="321.1" cy="1021.3" r="3.45"/>
<circle cx="735.3" cy="1021.3" r="3.45"/>
<circle cx="326.2" cy="961.2" r="3.45"/>
<circle cx="740.4" cy="961.2" r="3.45"/>
<circle cx="325.9" cy="1026.3" r="3.45"/>
<circle cx="740.1" cy="1026.3" r="3.45"/>
<circle cx="331.3" cy="973.8" r="3.45"/>
<circle cx="745.5" cy="973.8" r="3.45"/>
<circle cx="331.0" cy="1003.2" r="3.45"/>
<circle cx="745.2" cy="1003.2" r="3.45"/>
<circle cx="336.1" cy="975.9" r="3.45"/>
<circle cx="750.3" cy="975.9" r="3.45"/>
</g>
<path d="M146.6 1121.8L148.6 1120.4L150.7 1118.9L152.8 1117.4L154.8 1115.8L156.9 1114.2L159.0 1112.5L161.0 1110.8L163.1 1109.1L165.2 1107.3L167.3 1105.5L169.3 1103.7L171.4 1101.8L173.5 1099.9L175.5 1097.9L177.6 1095.9L179.7 1093.9L181.8 1091.9L183.8 1089.9L185.9 1087.8L188.0 1085.7L190.0 1083.6L192.1 1081.5L194.2 1079.4L196.3 1077.3L198.3 1075.1L200.4 1073.0L202.5 1070.9L204.5 1068.7L206.6 1066.6L208.7 1064.4L210.8 1062.3L212.8 1060.2L214.9 1058.0L217.0 1055.9L219.0 1053.8L221.1 1051.8L223.2 1049.7L225.3 1047.7L227.3 1045.7L229.4 1043.7L231.5 1041.7L233.5 1039.8L235.6 1037.9L237.7 1036.0L239.7 1034.1L241.8 1032.3L243.9 1030.6L246.0 1028.8L248.0 1027.1L250.1 1025.5L252.2 1023.9L254.2 1022.3L256.3 1020.8L258.4 1019.3L260.5 1017.9L262.5 1016.6L264.6 1015.3L266.7 1014.0L268.7 1012.8L270.8 1011.7L272.9 1010.6L275.0 1009.5L277.0 1008.6L279.1 1007.7L281.2 1006.8L283.2 1006.0L285.3 1005.3L287.4 1004.7L289.5 1004.1L291.5 1003.5L293.6 1003.1L295.7 1002.7L297.7 1002.4L299.8 1002.1L301.9 1001.9L304.0 1001.8L306.0 1001.7L308.1 1001.7L310.2 1001.8L312.2 1001.9L314.3 1002.1L316.4 1002.4L318.5 1002.8L320.5 1003.2L322.6 1003.6L324.7 1004.2L326.7 1004.8L328.8 1005.5L330.9 1006.2L332.9 1007.0L335.0 1007.8L337.1 1008.8L339.2 1009.7L341.2 1010.8L343.3 1011.9L345.4 1013.0L347.4 1014.2L349.5 1015.5L351.6 1016.8L353.7 1018.2L355.7 1019.6L357.8 1021.1L359.9 1022.6L361.9 1024.2L364.0 1025.8L366.1 1027.5L368.2 1029.2L370.2 1030.9L372.3 1032.7L374.4 1034.5L376.4 1036.3L378.5 1038.2L380.6 1040.1L382.7 1042.1L384.7 1044.1L386.8 1046.1L388.9 1048.1L390.9 1050.1L393.0 1052.2L395.1 1054.3L397.2 1056.4L399.2 1058.5L401.3 1060.6L403.4 1062.7L405.4 1064.9L407.5 1067.0L409.6 1069.1L411.7 1071.3L413.7 1073.4L415.8 1075.6L417.9 1077.7L419.9 1079.8L422.0 1082.0L424.1 1084.1L426.1 1086.2L428.2 1088.2L430.3 1090.3L432.4 1092.3L434.4 1094.3L436.5 1096.3L438.6 1098.3L440.6 1100.2L442.7 1102.1L444.8 1104.0L446.9 1105.9L448.9 1107.7L451.0 1109.4L453.1 1111.2L455.1 1112.9L457.2 1114.5L459.3 1116.1L461.4 1117.7L463.4 1119.2L465.5 1120.7L467.6 1122.1L469.6 1123.4L471.7 1124.7L473.8 1126.0L475.9 1127.2L477.9 1128.3L480.0 1129.4L482.1 1130.5L484.1 1131.4L486.2 1132.3L488.3 1133.2L490.4 1134.0L492.4 1134.7L494.5 1135.3L496.6 1135.9L498.6 1136.5L500.7 1136.9L502.8 1137.3L504.9 1137.6L506.9 1137.9L509.0 1138.1L511.1 1138.2L513.1 1138.3L515.2 1138.3L517.3 1138.2L519.3 1138.1L521.4 1137.9L523.5 1137.6L525.6 1137.2L527.6 1136.8L529.7 1136.4L531.8 1135.8L533.8 1135.2L535.9 1134.5L538.0 1133.8L540.1 1133.0L542.1 1132.2L544.2 1131.2L546.3 1130.3L548.3 1129.2L550.4 1128.1L552.5 1127.0L554.6 1125.8L556.6 1124.5L558.7 1123.2L560.8 1121.8L562.8 1120.4L564.9 1118.9L567.0 1117.4L569.1 1115.8L571.1 1114.2L573.2 1112.5L575.3 1110.8L577.3 1109.1L579.4 1107.3L581.5 1105.5L583.6 1103.7L585.6 1101.8L587.7 1099.9L589.8 1097.9L591.8 1095.9L593.9 1093.9L596.0 1091.9L598.0 1089.9L600.1 1087.8L602.2 1085.7L604.3 1083.6L606.3 1081.5L608.4 1079.4L610.5 1077.3L612.5 1075.1L614.6 1073.0L616.7 1070.9L618.8 1068.7L620.8 1066.6L622.9 1064.4L625.0 1062.3L627.0 1060.2L629.1 1058.0L631.2 1055.9L633.3 1053.8L635.3 1051.8L637.4 1049.7L639.5 1047.7L641.5 1045.7L643.6 1043.7L645.7 1041.7L647.8 1039.8L649.8 1037.9L651.9 1036.0L654.0 1034.1L656.0 1032.3L658.1 1030.6L660.2 1028.8L662.3 1027.1L664.3 1025.5L666.4 1023.9L668.5 1022.3L670.5 1020.8L672.6 1019.3L674.7 1017.9L676.8 1016.6L678.8 1015.3L680.9 1014.0L683.0 1012.8L685.0 1011.7L687.1 1010.6L689.2 1009.5L691.2 1008.6L693.3 1007.7L695.4 1006.8L697.5 1006.0L699.5 1005.3L701.6 1004.7L703.7 1004.1L705.7 1003.5L707.8 1003.1L709.9 1002.7L712.0 1002.4L714.0 1002.1L716.1 1001.9L718.2 1001.8L720.2 1001.7L722.3 1001.7L724.4 1001.8L726.5 1001.9L728.5 1002.1L730.6 1002.4L732.7 1002.8L734.7 1003.2L736.8 1003.6L738.9 1004.2L741.0 1004.8L743.0 1005.5L745.1 1006.2L747.2 1007.0L749.2 1007.8L751.3 1008.8L753.4 1009.7L755.5 1010.8L757.5 1011.9L759.6 1013.0L761.7 1014.2L763.7 1015.5L765.8 1016.8L767.9 1018.2L770.0 1019.6L772.0 1021.1L774.1 1022.6L776.2 1024.2L778.2 1025.8L780.3 1027.5L782.4 1029.2L784.4 1030.9L786.5 1032.7L788.6 1034.5L790.7 1036.3L792.7 1038.2L794.8 1040.1L796.9 1042.1L798.9 1044.1L801.0 1046.1L803.1 1048.1L805.2 1050.1L807.2 1052.2L809.3 1054.3L811.4 1056.4L813.4 1058.5L815.5 1060.6L817.6 1062.7L819.7 1064.9L821.7 1067.0L823.8 1069.1L825.9 1071.3L827.9 1073.4L830.0 1075.6L832.1 1077.7L834.2 1079.8L836.2 1082.0L838.3 1084.1L840.4 1086.2L842.4 1088.2L844.5 1090.3L846.6 1092.3L848.7 1094.3L850.7 1096.3L852.8 1098.3L854.9 1100.2L856.9 1102.1L859.0 1104.0L861.1 1105.9L863.2 1107.7L865.2 1109.4L867.3 1111.2L869.4 1112.9L871.4 1114.5L873.5 1116.1L875.6 1117.7L877.6 1119.2L879.7 1120.7L881.8 1122.1L883.9 1123.4L885.9 1124.7L888.0 1126.0L890.1 1127.2L892.1 1128.3L894.2 1129.4L896.3 1130.5L898.4 1131.4L900.4 1132.3L902.5 1133.2L904.6 1134.0L906.6 1134.7L908.7 1135.3L910.8 1135.9L912.9 1136.5L914.9 1136.9L917.0 1137.3L919.1 1137.6L921.1 1137.9L923.2 1138.1L925.3 1138.2L927.4 1138.3L929.4 1138.3L931.5 1138.2L933.6 1138.1L935.6 1137.9L937.7 1137.6L939.8 1137.2L941.9 1136.8L943.9 1136.4L946.0 1135.8L948.1 1135.2L950.1 1134.5L952.2 1133.8L954.3 1133.0L956.4 1132.2L958.4 1131.2L960.5 1130.3L962.6 1129.2L964.6 1128.1L966.7 1127.0L968.8 1125.8L970.8 1124.5L972.9 1123.2L975.0 1121.8" fill="none" stroke="#231f20" stroke-width="2.3"/>
<text id="t60" transform="translate(70.85 961.60) scale(1.03 1)" font-size="25.0" font-family='"DejaVu Serif", "Liberation Serif", serif' textLength="56.07" lengthAdjust="spacing" stroke="#231f20" stroke-width="0.5">3.48</text>
<text id="t61" transform="translate(70.85 1043.93) scale(1.03 1)" font-size="25.0" font-family='"DejaVu Serif", "Liberation Serif", serif' textLength="56.07" lengthAdjust="spacing" stroke="#231f20" stroke-width="0.5">3.49</text>
<text id="t62" transform="translate(86.90 1126.26) scale(1.03 1)" font-size="25.0" font-family='"DejaVu Serif", "Liberation Serif", serif' textLength="41.02" lengthAdjust="spacing" stroke="#231f20" stroke-width="0.5">3.5</text>
<text id="t63" transform="translate(70.85 1208.59) scale(1.03 1)" font-size="25.0" font-family='"DejaVu Serif", "Liberation Serif", serif' textLength="58.01" lengthAdjust="spacing" stroke="#231f20" stroke-width="0.5">3.51</text>
<text id="t64" transform="translate(125.75 1270.80) scale(1.03 1)" font-size="24.6" font-family='"DejaVu Serif", "Liberation Serif", serif' textLength="40.78" lengthAdjust="spacing" stroke="#231f20" stroke-width="0.5">0.0</text>
<text id="t65" transform="translate(208.59 1270.80) scale(1.03 1)" font-size="24.6" font-family='"DejaVu Serif", "Liberation Serif", serif' textLength="41.26" lengthAdjust="spacing" stroke="#231f20" stroke-width="0.5">0.2</text>
<text id="t66" transform="translate(291.69 1270.80) scale(1.03 1)" font-size="24.6" font-family='"DejaVu Serif", "Liberation Serif", serif' textLength="40.05" lengthAdjust="spacing" stroke="#231f20" stroke-width="0.5">0.4</text>
<text id="t67" transform="translate(374.28 1270.80) scale(1.03 1)" font-size="24.6" font-family='"DejaVu Serif", "Liberation Serif", serif' textLength="40.53" lengthAdjust="spacing" stroke="#231f20" stroke-width="0.5">0.6</text>
<text id="t68" transform="translate(457.38 1270.80) scale(1.03 1)" font-size="24.6" font-family='"DejaVu Serif", "Liberation Serif", serif' textLength="40.53" lengthAdjust="spacing" stroke="#231f20" stroke-width="0.5">0.8</text>
<text id="t69" transform="translate(539.97 1270.80) scale(1.03 1)" font-size="24.6" font-family='"DejaVu Serif", "Liberation Serif", serif' textLength="40.78" lengthAdjust="spacing" stroke="#231f20" stroke-width="0.5">0.0</text>
<text id="t70" transform="translate(622.81 1270.80) scale(1.03 1)" font-size="24.6" font-family='"DejaVu Serif", "Liberation Serif", serif' textLength="41.26" lengthAdjust="spacing" stroke="#231f20" stroke-width="0.5">0.2</text>
<text id="t71" transform="translate(705.91 1270.80) scale(1.03 1)" font-size="24.6" font-family='"DejaVu Serif", "Liberation Serif", serif' textLength="40.05" lengthAdjust="spacing" stroke="#231f20" stroke-width="0.5">0.4</text>
<text id="t72" transform="translate(788.50 1270.80) scale(1.03 1)" font-size="24.6" font-family='"DejaVu Serif", "Liberation Serif", serif' textLength="40.53" lengthAdjust="spacing" stroke="#231f20" stroke-width="0.5">0.6</text>
<text id="t73" transform="translate(871.35 1270.80) scale(1.03 1)" font-size="24.6" font-family='"DejaVu Serif", "Liberation Serif", serif' textLength="40.53" lengthAdjust="spacing" stroke="#231f20" stroke-width="0.5">0.8</text>
<text id="t74" transform="translate(954.44 1270.80) scale(1.03 1)" font-size="24.6" font-family='"DejaVu Serif", "Liberation Serif", serif' textLength="40.53" lengthAdjust="spacing" stroke="#231f20" stroke-width="0.5">0.0</text>
<text id="t75" transform="translate(399.70 1306.80) scale(1.0707766129452878 1)" font-size="30.8" font-family='"DejaVu Serif", "Liberation Serif", serif' textLength="194.49" lengthAdjust="spacing" stroke="#231f20" stroke-width="0.3">Photometric</text>
<text id="t76" transform="translate(625.00 1306.80) scale(1.0030532381525754 1)" font-size="30.8" font-family='"DejaVu Serif", "Liberation Serif", serif' textLength="95.96" lengthAdjust="spacing" stroke="#231f20" stroke-width="0.3">Phase</text>
<text id="t77" transform="translate(26.50 1135.40) rotate(-90)" font-size="32.5" font-family='"DejaVu Serif", "Liberation Serif", serif' textLength="18.50" lengthAdjust="spacingAndGlyphs" stroke="#231f20" stroke-width="0.3">Δ</text>
<text id="t78" transform="translate(26.50 1114.75) rotate(-90) scale(0.93 1)" font-size="32.5" font-family='"DejaVu Serif", "Liberation Serif", serif' textLength="98.92" lengthAdjust="spacing" stroke="#231f20" stroke-width="0.3">(b+y)</text>
<text id="t79" transform="translate(26.50 1001.30) rotate(-90)" font-size="32.5" font-family='"DejaVu Serif", "Liberation Serif", serif' textLength="20.57" lengthAdjust="spacingAndGlyphs" stroke="#231f20" stroke-width="0.3">2</text>
<text transform="translate(16.90 1011.00) rotate(-90) rotate(14) translate(-7.25 13.63)" font-size="43" font-family='"DejaVu Serif", "Liberation Serif", serif' stroke="#fff" stroke-width="0.7">/</text>
<text id="t80" transform="translate(172.95 929.30) scale(0.9484989848581129 1)" font-size="22.6" font-family='"DejaVu Serif", "Liberation Serif", serif' textLength="65.63" lengthAdjust="spacing" stroke="#231f20" stroke-width="0.8">Mean</text>
<text id="t81" transform="translate(247.30 929.30)" font-size="22.6" font-family='"DejaVu Serif", "Liberation Serif", serif' textLength="20.00" lengthAdjust="spacingAndGlyphs">=</text>
<text id="t82" transform="translate(278.30 929.30) scale(1.03 1)" font-size="22.6" font-family='"DejaVu Serif", "Liberation Serif", serif' textLength="79.61" lengthAdjust="spacing" stroke="#231f20" stroke-width="0.8">3.4943</text>
<text id="t83" transform="translate(773.00 929.40) scale(1.0722623378033551 1)" font-size="22.6" font-family='"DejaVu Serif", "Liberation Serif", serif' textLength="74.84" lengthAdjust="spacing" stroke="#231f20" stroke-width="0.8">Period</text>
<text id="t84" transform="translate(865.50 929.40)" font-size="22.6" font-family='"DejaVu Serif", "Liberation Serif", serif' textLength="20.12" lengthAdjust="spacingAndGlyphs">=</text>
<text id="t85" transform="translate(896.05 929.40) scale(1.03 1)" font-size="22.6" font-family='"DejaVu Serif", "Liberation Serif", serif' textLength="51.46" lengthAdjust="spacing" stroke="#231f20" stroke-width="0.8">84.2</text>
<text id="t86" transform="translate(173.95 1203.80) scale(0.9542325914007332 1)" font-size="22.6" font-family='"DejaVu Serif", "Liberation Serif", serif' textLength="45.85" lengthAdjust="spacing" stroke="#231f20" stroke-width="0.8">Full</text>
<text id="t87" transform="translate(232.60 1203.80) scale(1.0070186145865117 1)" font-size="22.6" font-family='"DejaVu Serif", "Liberation Serif", serif' textLength="52.63" lengthAdjust="spacing" stroke="#231f20" stroke-width="0.8">Amp</text>
<text id="t88" transform="translate(297.65 1203.80)" font-size="22.6" font-family='"DejaVu Serif", "Liberation Serif", serif' textLength="23.45" lengthAdjust="spacingAndGlyphs">=</text>
<text id="t89" transform="translate(328.70 1203.80) scale(1.03 1)" font-size="22.6" font-family='"DejaVu Serif", "Liberation Serif", serif' textLength="77.43" lengthAdjust="spacing" stroke="#231f20" stroke-width="0.8">0.0166</text>
<text id="t90" transform="translate(420.70 1203.80)" font-size="22.6" font-family='"DejaVu Serif", "Liberation Serif", serif' textLength="19.79" lengthAdjust="spacingAndGlyphs">+</text>
<text id="t91" transform="translate(455.90 1203.80)" font-size="22.6" font-family='"DejaVu Serif", "Liberation Serif", serif' textLength="20.35" lengthAdjust="spacingAndGlyphs">−</text>
<text id="t92" transform="translate(487.20 1203.80) scale(1.03 1)" font-size="22.6" font-family='"DejaVu Serif", "Liberation Serif", serif' textLength="78.16" lengthAdjust="spacing" stroke="#231f20" stroke-width="0.8">0.0008</text>
<text transform="translate(448.20 1196.80) rotate(9.5) translate(-5.56 10.46)" font-size="33" font-family='"DejaVu Serif", "Liberation Serif", serif' stroke="#231f20" stroke-width="0.2">/</text>
<text id="t93" transform="translate(775.80 1204.00) scale(1.087948179910593 1)" font-size="22.6" font-family='"DejaVu Serif", "Liberation Serif", serif' textLength="45.04" lengthAdjust="spacing" stroke="#231f20" stroke-width="0.8">rms</text>
<text id="t94" transform="translate(836.20 1204.00)" font-size="22.6" font-family='"DejaVu Serif", "Liberation Serif", serif' textLength="20.00" lengthAdjust="spacingAndGlyphs">=</text>
<text id="t95" transform="translate(866.75 1204.00) scale(1.03 1)" font-size="22.6" font-family='"DejaVu Serif", "Liberation Serif", serif' textLength="79.37" lengthAdjust="spacing" stroke="#231f20" stroke-width="0.8">0.0031</text>
</svg>
</body></html>
